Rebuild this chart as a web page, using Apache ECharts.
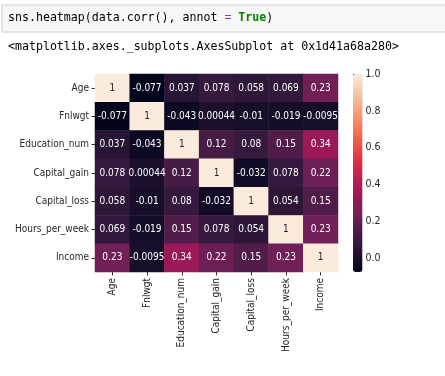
<!DOCTYPE html>
<html>
<head>
<meta charset="utf-8">
<script src="https://cdn.jsdelivr.net/npm/echarts@6/dist/echarts.min.js"></script>
<style>
  html, body { margin: 0; padding: 0; background: #fff; }
  #chart { width: 445px; height: 376px; }
</style>
</head>
<body>
<div id="chart"></div>
<script>
// correlation matrix as printed by sns.heatmap(data.corr(), annot = True)
const columns = ['Age', 'Fnlwgt', 'Education_num', 'Capital_gain', 'Capital_loss', 'Hours_per_week', 'Income']
const ageRow = [1, -0.077, 0.037, 0.078, 0.058, 0.069, 0.23]
const fnlwgtRow = [-0.077, 1, -0.043, 0.00044, -0.01, -0.019, -0.0095]
const educationRow = [0.037, -0.043, 1, 0.12, 0.08, 0.15, 0.34]
const gainRow = [0.078, 0.00044, 0.12, 1, -0.032, 0.078, 0.22]
const lossRow = [0.058, -0.01, 0.08, -0.032, 1, 0.054, 0.15]
const hoursRow = [0.069, -0.019, 0.15, 0.078, 0.054, 1, 0.23]
const incomeRow = [0.23, -0.0095, 0.34, 0.22, 0.15, 0.23, 1]
const colorbarTicks = [0, 0.2, 0.4, 0.6, 0.8, 1.0]

// seaborn "rocket" colormap, sampled evenly
const rocket = ['#03051A', '#35193E', '#701F57', '#AD1759', '#E13342', '#F37651', '#F6B48F', '#FAEBDD']

const rows = [ageRow, fnlwgtRow, educationRow, gainRow, lossRow, hoursRow, incomeRow]
const cells = []
rows.forEach((row, y) => {
  row.forEach((v, x) => cells.push([x, y, v]))
})
const vmin = Math.min(...cells.map(c => c[2]))
const vmax = Math.max(...cells.map(c => c[2]))

const fmt = v => String(Number(v.toPrecision(2)))
const mono = '"DejaVu Sans Mono", monospace'
const sans = '"DejaVu Sans Condensed", "DejaVu Sans", sans-serif'

const chart = echarts.init(document.getElementById('chart'))
chart.setOption({
  animation: false,
  backgroundColor: '#fff',
  graphic: [
    {
      type: 'rect',
      shape: { x: 2, y: 5, width: 460, height: 27 },
      style: { fill: '#f7f7f7', stroke: '#cfcfcf', lineWidth: 1 }
    },
    {
      type: 'text',
      left: 8,
      top: 12,
      style: {
        text: 'sns.heatmap(data.corr(), annot {p|=} {g|True})',
        font: '11.6px ' + mono,
        fill: '#000',
        rich: {
          p: { fill: '#aa22ff', font: '11.6px ' + mono },
          g: { fill: '#008000', font: 'bold 11.6px ' + mono }
        }
      }
    },
    {
      type: 'text',
      left: 8,
      top: 41,
      style: {
        text: '<matplotlib.axes._subplots.AxesSubplot at 0x1d41a68a280>',
        font: '11.6px ' + mono,
        fill: '#000'
      }
    }
  ],
  grid: [
    { left: 95, top: 74, width: 243, height: 198 },
    { left: 353, top: 74, width: 9.5, height: 198 }
  ],
  xAxis: [
    {
      type: 'category',
      gridIndex: 0,
      data: columns,
      position: 'bottom',
      axisLine: { show: false },
      axisTick: { show: true, alignWithLabel: true, length: 3.5, lineStyle: { color: '#333' } },
      axisLabel: { rotate: 90, margin: 6, fontSize: 10, fontFamily: sans, color: '#262626' },
      splitLine: { show: false }
    },
    { type: 'value', gridIndex: 1, show: false, min: 0, max: 1 }
  ],
  yAxis: [
    {
      type: 'category',
      gridIndex: 0,
      data: columns,
      inverse: true,
      axisLine: { show: false },
      axisTick: { show: true, alignWithLabel: true, length: 3.5, lineStyle: { color: '#333' } },
      axisLabel: { margin: 6, fontSize: 10, fontFamily: sans, color: '#262626' },
      splitLine: { show: false }
    },
    {
      type: 'value',
      gridIndex: 1,
      position: 'right',
      min: vmin,
      max: vmax,
      axisLine: { show: false },
      axisTick: { show: true, length: 3.5, customValues: colorbarTicks, lineStyle: { color: '#333' } },
      axisLabel: {
        margin: 3, fontSize: 10.5, fontFamily: sans, color: '#262626',
        customValues: colorbarTicks,
        formatter: v => v.toFixed(1)
      },
      splitLine: { show: false }
    }
  ],
  visualMap: {
    type: 'continuous',
    min: vmin,
    max: vmax,
    seriesIndex: 0,
    calculable: false,
    orient: 'vertical',
    left: 353,
    top: 74,
    padding: 0,
    itemWidth: 9.5,
    itemHeight: 198,
    text: null,
    showLabel: false,
    inRange: { color: rocket }
  },
  series: [
    {
      type: 'heatmap',
      xAxisIndex: 0,
      yAxisIndex: 0,
      data: cells,
      label: {
        show: true,
        fontSize: 10,
        fontFamily: sans,
        formatter: p => fmt(p.value[2]),
        color: '#fff'
      },
      itemStyle: { borderWidth: 0 },
      emphasis: { disabled: true }
    }
  ]
})

// dark annotation text on light cells, like seaborn
const opt = chart.getOption()
opt.series[0].data = cells.map(c => {
  const t = (c[2] - vmin) / (vmax - vmin)
  return t > 0.6 ? { value: c, label: { color: '#262626' } } : { value: c }
})
chart.setOption({ series: opt.series })
</script>
</body>
</html>
